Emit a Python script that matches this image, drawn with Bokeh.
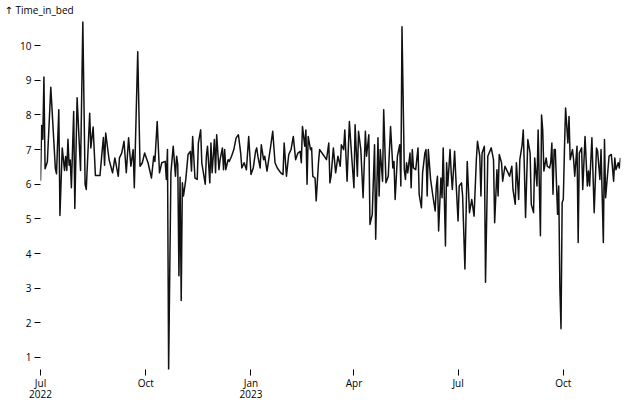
import pandas as pd
from bokeh.plotting import figure
from bokeh.models import Range1d, FixedTicker, DatetimeAxis
from bokeh.embed import file_html
from bokeh.resources import INLINE

# ---- data ----
start_date = "2022-07-01"
day_offsets = [
    0, 1, 2, 3, 4, 6, 9, 13, 14, 16, 17, 19, 21, 22, 23, 24, 25, 26, 27, 29,
    30, 32, 35, 37, 39, 40, 43, 44, 46, 48, 52, 54, 55, 56,
    57, 60, 63, 65, 68, 69, 71, 73, 75, 77, 79, 81, 82, 85, 87, 89, 91, 94,
    97, 99, 100, 102, 104, 106, 109, 110, 111, 112, 114, 116, 118, 119, 120,
    121, 122, 123, 124, 125,
    127, 129, 131, 132, 133, 135, 137, 138, 140, 141, 144, 145, 146, 148, 149,
    150, 152, 153, 154, 156, 157, 159, 160, 161, 162, 164, 165, 167, 169, 171,
    173, 175, 176, 178, 180, 182, 184, 186, 188,
    189, 190, 192, 193, 195, 196, 198, 201, 203, 205, 207, 210, 212, 213, 215,
    217, 219, 221, 223, 225, 227, 228, 229, 231, 232, 233, 234, 236, 237, 238,
    240, 241, 243, 244, 247, 250, 252, 253,
    254, 256, 258, 260, 262, 263, 265, 266, 268, 270, 272, 274, 275, 277, 278,
    280, 282, 284, 285, 287, 288, 290, 292, 293, 295, 296, 297, 299, 300, 302,
    304, 306, 308, 309, 310, 312, 314, 315, 316, 318, 319,
    320, 321, 323, 324, 325, 326, 328, 330, 331, 333, 334, 336, 337, 338, 339,
    341, 343, 345, 346, 347, 348, 350, 351, 352, 354, 355, 356, 358, 359, 360,
    362, 363, 365, 366, 368, 369, 371, 373, 375, 377, 379, 381, 382, 384,
    385, 386, 388, 389, 391, 394, 396, 397, 399, 400, 401, 403, 404, 406, 408,
    410, 412, 413, 415, 416, 418, 419, 421, 422, 423, 424, 426, 428, 429, 431,
    432, 434, 435, 437, 438, 439, 440, 442, 443, 445, 446, 447, 448, 449,
    450, 452, 453, 454, 455, 456, 457, 458, 459, 461, 462, 463, 465, 466, 467,
    469, 470, 471, 473, 474, 476, 478, 479, 480, 482, 484, 486, 487, 489, 490,
    492, 493, 494, 497, 499, 501, 502, 503, 505, 506, 507,
]
time_in_bed = [
    6.1, 7.7, 7.3, 9.1, 6.45, 6.65, 8.8, 6.45, 6.3, 8.15, 5.1, 7.05, 6.4, 6.8, 6.4, 7.3, 6.55, 6.7, 5.9, 8.1,
    5.3, 8.5, 6.4, 10.7, 6.0, 5.85, 8.05, 7.05, 7.65, 6.25, 6.25, 7.0, 7.35, 6.55,
    7.48, 6.7, 6.33, 6.76, 6.23, 6.76, 6.9, 7.24, 6.33, 7.34, 6.52, 7.0, 5.9, 9.83, 6.52, 6.62, 6.9, 6.62,
    6.18, 6.81, 6.66, 7.81, 6.33, 6.62, 6.66, 6.14, 7.0, 0.65, 6.33, 7.1, 6.23, 6.81, 6.57,
    3.36, 6.2, 2.64, 6.04, 5.66,
    6.14, 6.86, 6.95, 6.38, 7.38, 6.18, 6.14, 7.19, 7.57, 6.62, 6.0, 6.81, 7.1, 6.04, 7.19,
    6.33, 7.29, 6.33, 7.43, 6.42, 6.71, 7.05, 6.42, 7.0, 6.42, 6.71, 6.66, 6.81, 7.0, 7.34,
    7.43, 6.9, 6.47, 6.62, 6.42, 7.38, 6.28, 6.47, 6.95,
    7.05, 6.81, 6.47, 7.14, 6.71, 6.81, 6.38, 7.05, 7.53, 6.62, 6.47, 6.33, 6.28, 7.19, 6.23,
    6.86, 7.0, 7.38, 6.71, 6.9, 6.95, 6.62, 7.67, 7.1, 7.57, 6.0, 7.38, 7.0, 7.05, 6.23,
    6.18, 5.52, 6.62, 7.0, 6.86, 6.71, 7.19, 6.04,
    6.23, 7.05, 6.33, 6.81, 6.52, 7.14, 7.0, 7.57, 6.09, 7.81, 6.81, 5.9, 7.72, 6.23, 7.53,
    7.0, 5.61, 7.53, 6.81, 7.43, 4.84, 5.13, 7.14, 4.41, 7.34, 5.66, 7.0, 6.09, 8.15, 6.04,
    6.23, 7.67, 6.47, 6.66, 5.56, 6.81, 7.14, 5.95, 10.55, 6.42, 6.14,
    6.62, 6.33, 6.9, 5.9, 7.0, 6.47, 6.42, 7.05, 5.71, 5.32, 6.33, 6.9, 7.0, 5.66, 7.0,
    6.14, 5.66, 5.23, 5.95, 6.23, 4.65, 6.18, 5.61, 7.05, 4.22, 6.62, 5.95, 7.0, 6.33, 5.85,
    6.95, 6.23, 4.94, 5.95, 6.04, 5.66, 3.55, 6.66, 5.18, 5.56, 5.08, 6.71, 7.24, 6.81,
    5.66, 6.9, 7.1, 3.17, 6.81, 7.05, 6.71, 4.89, 6.42, 5.66, 6.86, 6.62, 6.09, 6.52, 6.38,
    6.23, 6.52, 5.85, 5.42, 6.62, 5.56, 6.71, 7.14, 7.57, 6.42, 5.04, 7.29, 6.9, 5.42, 5.18,
    6.76, 5.95, 7.57, 4.51, 8.0, 7.57, 6.38, 6.76, 6.52, 6.47, 6.62, 7.19, 5.71, 7.0,
    7.0, 5.13, 5.95, 3.02, 1.83, 5.47, 5.56, 7.0, 8.2, 7.19, 7.96, 6.71, 7.0, 6.71, 6.23,
    7.1, 4.32, 6.9, 7.05, 5.85, 7.38, 5.95, 6.38, 5.95, 7.34, 5.18, 7.05, 6.95, 6.14, 7.0,
    4.32, 7.29, 5.61, 6.81, 6.86, 6.09, 6.76, 6.42, 6.62, 6.47, 6.76,
]
x_tick_dates = ["2022-07-01", "2022-10-01", "2023-01-01", "2023-04-01", "2023-07-01", "2023-10-01"]
x_tick_labels = ["Jul", "Oct", "Jan", "Apr", "Jul", "Oct"]
year_label_dates = ["2022-07-01", "2023-01-01"]
year_labels = ["2022", "2023"]
y_ticks = [1, 2, 3, 4, 5, 6, 7, 8, 9, 10]
y_label = "↑ Time_in_bed"

assert len(day_offsets) == len(time_in_bed)

dates = pd.Timestamp(start_date) + pd.to_timedelta(day_offsets, unit="D")

FONT = "Open Sans"

p = figure(
    width=640, height=400,
    x_axis_type="datetime",
    output_backend="svg",
    toolbar_location=None,
    min_border_left=40, min_border_right=20,
    min_border_top=20, min_border_bottom=30,
    x_range=Range1d(start=dates[0], end=dates[-1]),
    y_range=Range1d(start=min(time_in_bed), end=max(time_in_bed)),
    title=y_label,
)

p.line(x=dates, y=time_in_bed, line_color="#111111", line_width=1.5, line_join="round")

p.outline_line_color = None
p.xgrid.visible = False
p.ygrid.visible = False
p.background_fill_color = "white"
p.border_fill_color = "white"

# title used as the y-axis label at the top-left
p.title.text_font = "'Open Sans', 'DejaVu Sans', sans-serif"
p.title.text_font_size = "10px"
p.title.text_font_style = "normal"
p.title.text_color = "black"
p.title.align = "left"
p.title.offset = -36
p.title.standoff = 5
p.title.vertical_align = "top"


def style_axis(ax, ticks, labels=None, tick_out=6, standoff=0):
    ax.ticker = FixedTicker(ticks=ticks)
    if labels is not None:
        ax.major_label_overrides = {t: lab for t, lab in zip(ticks, labels)}
    ax.axis_line_color = None
    ax.major_tick_out = tick_out
    ax.major_tick_in = 0
    ax.minor_tick_out = 0
    ax.minor_tick_in = 0
    ax.major_tick_line_color = "black" if tick_out else None
    ax.major_label_standoff = standoff
    ax.major_label_text_font = FONT
    ax.major_label_text_font_size = "10px"
    ax.major_label_text_color = "black"


# x axis (months)
tick_ms = [pd.Timestamp(d).value / 1e6 for d in x_tick_dates]
style_axis(p.xaxis[0], tick_ms, x_tick_labels, tick_out=6, standoff=0)

# second row of x labels (years)
year_ms = [pd.Timestamp(d).value / 1e6 for d in year_label_dates]
year_axis = DatetimeAxis()
style_axis(year_axis, year_ms, year_labels, tick_out=0, standoff=-3)
p.add_layout(year_axis, "below")

# y axis
style_axis(p.yaxis[0], y_ticks, tick_out=6, standoff=3)

open("out.html", "w").write(file_html(p, INLINE))
